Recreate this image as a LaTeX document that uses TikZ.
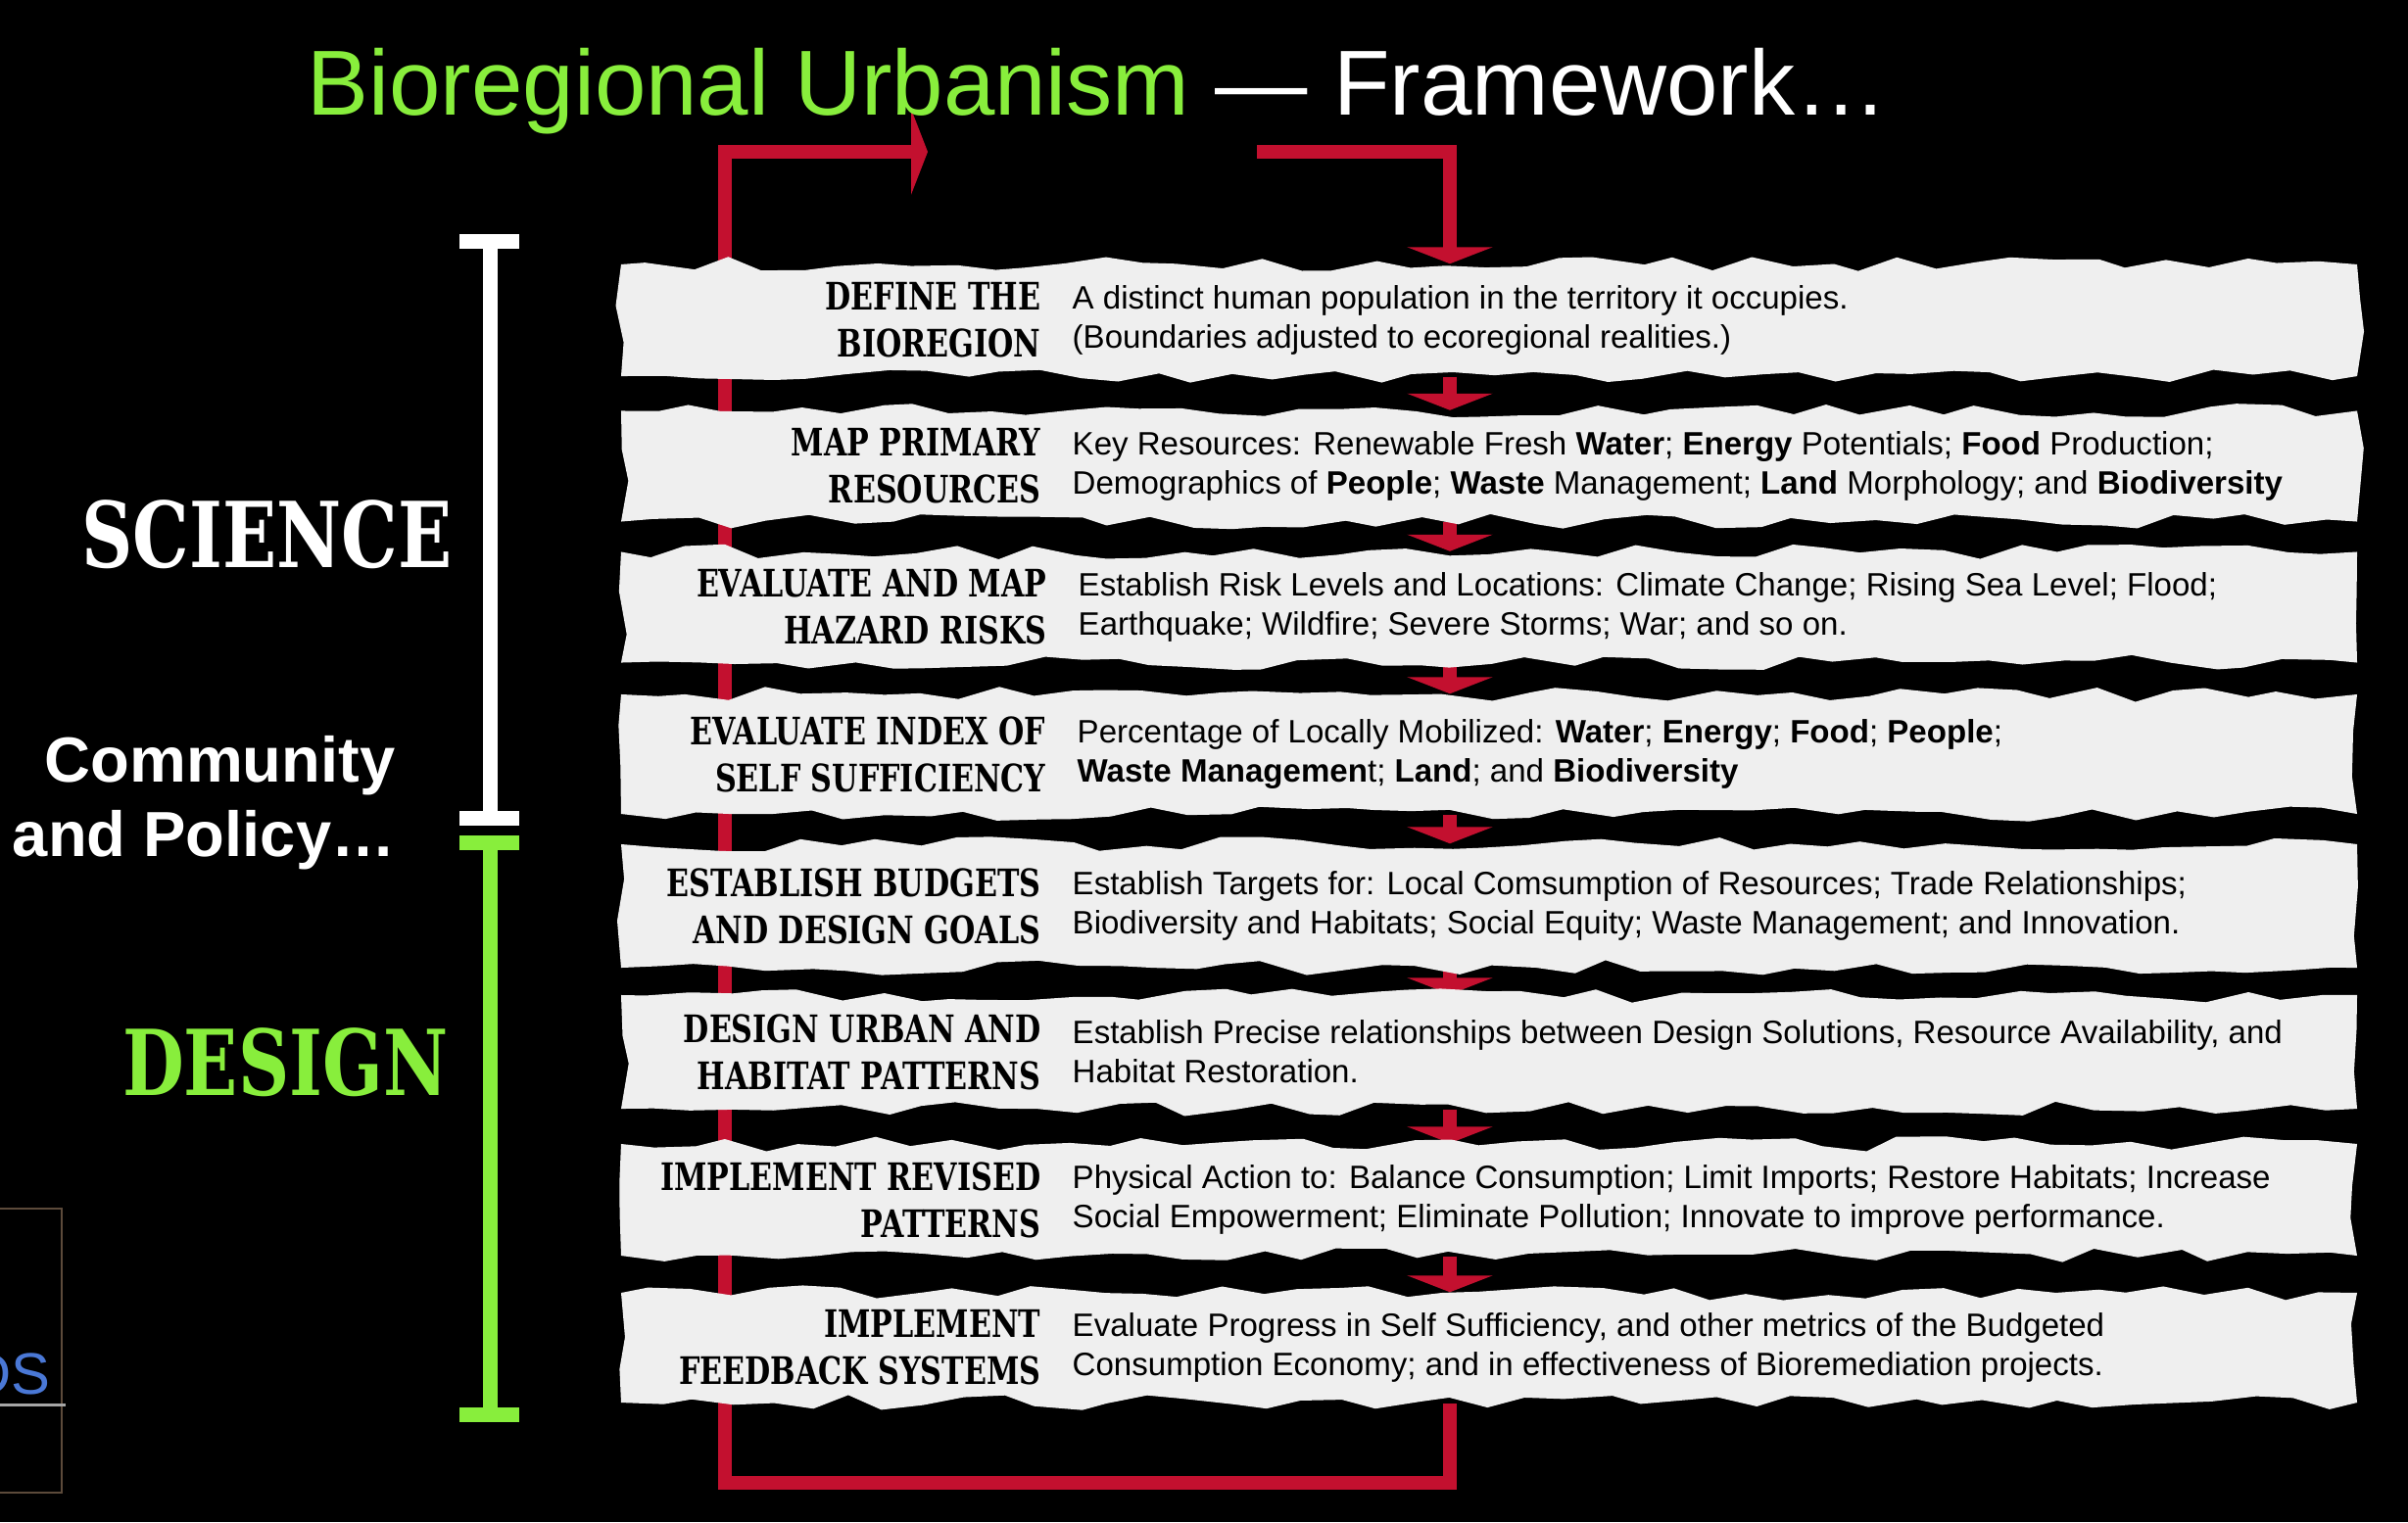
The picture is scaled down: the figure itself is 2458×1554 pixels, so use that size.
\documentclass[tikz,border=0pt]{standalone}
\usepackage{fontspec}
\setmainfont{Liberation Sans}
\newfontfamily\stencilfont[FakeStretch=0.78]{DejaVu Serif}
\usepackage{xcolor}
\usetikzlibrary{arrows.meta,calc,positioning,backgrounds,decorations.pathmorphing}
\definecolor{loopred}{HTML}{C3102F}
\definecolor{bioGreen}{HTML}{88EE3C}
\definecolor{paper}{HTML}{EFEFEF}
\definecolor{logoblue}{HTML}{4A78D6}
\definecolor{logoframe}{HTML}{5C4A3A}
\tikzset{
  loopline/.style={loopred,line width=0.14cm},
  flowtip/.tip={Triangle[width=0.87cm,length=0.17cm]},
  tornstrip/.style={fill=paper,decorate,decoration={random steps,segment length=11pt,amplitude=2.2pt},minimum width=17.71cm,inner sep=0pt},
  steplabel/.style={align=right,inner sep=0pt,font=\stencilfont\bfseries\fontsize{11}{13.6}\selectfont},
  stepdesc/.style={align=left,inner sep=0pt,font=\fontsize{9.4}{11.4}\selectfont},
  bigword/.style={inner sep=0pt,font=\stencilfont\bfseries\fontsize{26.4}{30}\selectfont},
  whitebar/.style={white,line width=0.15cm},
  greenbar/.style={bioGreen,line width=0.15cm}
}
\pgfmathsetseed{11}

\begin{document}
\begin{tikzpicture}[x=0.01cm,y=-0.01cm]
\useasboundingbox (0,0) rectangle (2458,1554);
% steps of the framework
\foreach \yc/\hh/\dx/\lab/\txt [count=\i] in {
  327/1.14/0/{DEFINE THE\\BIOREGION}/{A distinct human population in the territory it occupies.\\(Boundaries adjusted to ecoregional realities.)},
  476/1.13/0/{MAP PRIMARY\\RESOURCES}/{Key Resources: Renewable Fresh \textbf{Water}; \textbf{Energy} Potentials; \textbf{Food} Production;\\Demographics of \textbf{People}; \textbf{Waste} Management; \textbf{Land} Morphology; and \textbf{Biodiversity}},
  620/1.13/6/{EVALUATE AND MAP\\HAZARD RISKS}/{Establish Risk Levels and Locations: Climate Change; Rising Sea Level; Flood;\\Earthquake; Wildfire; Severe Storms; War; and so on.},
  770/1.22/5/{EVALUATE INDEX OF\\SELF SUFFICIENCY}/{Percentage of Locally Mobilized: \textbf{Water}; \textbf{Energy}; \textbf{Food}; \textbf{People};\\\textbf{Waste Managemen}t; \textbf{Land}; and \textbf{Biodiversity}},
  925/1.26/0/{ESTABLISH BUDGETS\\AND DESIGN GOALS}/{Establish Targets for: Local Comsumption of Resources; Trade Relationships;\\Biodiversity and Habitats; Social Equity; Waste Management; and Innovation.},
  1074/1.16/0/{DESIGN URBAN AND\\HABITAT PATTERNS}/{Establish Precise relationships between Design Solutions, Resource Availability, and\\Habitat Restoration.},
  1225/1.14/0/{IMPLEMENT REVISED\\PATTERNS}/{Physical Action to: Balance Consumption; Limit Imports; Restore Habitats; Increase\\Social Empowerment; Eliminate Pollution; Innovate to improve performance.},
  1376/1.12/0/{IMPLEMENT\\FEEDBACK SYSTEMS}/{Evaluate Progress in Self Sufficiency, and other metrics of the Budgeted\\Consumption Economy; and in effectiveness of Bioremediation projects.}}{
  \node[tornstrip,minimum height=\hh cm] (strip\i) at (1520,\yc) {};
  \node[steplabel,anchor=east] (lab\i) at (1063+\dx,\yc) {\lab};
  \node[stepdesc,anchor=west] (desc\i) at (1094+\dx,\yc) {\txt};
}
\coordinate (rail) at (1480,0);
\coordinate (loopin) at (1283,155);
\coordinate (loopbot) at (740,1514);
\coordinate (looptop) at (740,155);
\coordinate (loopout) at (947,155);
\begin{scope}[on background layer]
\fill[black] (0,0) rectangle (2458,1554);
\draw[loopline,-flowtip] (loopin) -| (strip1.north -| rail);
\foreach \i [evaluate=\i as \j using int(\i+1)] in {1,...,7}{\draw[loopline,-flowtip] (strip\i.south -| rail) -- (strip\j.north -| rail);}
\draw[loopline,-flowtip] (strip8.south -| rail) |- (loopbot) -- (looptop) -- (loopout);
\end{scope}
\node[anchor=base west,inner sep=0pt,text=white,font=\fontsize{26.8}{32}\selectfont] (title) at (313,117) {\textcolor{bioGreen}{Bioregional Urbanism} — Framework…};
% science / design brackets
\draw[whitebar] (469,246) -- (530,246);
\draw[whitebar] (500,246) -- (500,835);
\draw[whitebar] (469,835) -- (530,835);
\draw[greenbar] (469,860) -- (530,860);
\draw[greenbar] (500,860) -- (500,1444);
\draw[greenbar] (469,1444) -- (530,1444);
\node[bigword,anchor=base east,text=white] (science) at (462,579) {SCIENCE};
\node[bigword,anchor=base east,text=bioGreen] (design) at (458,1118) {DESIGN};
\node[anchor=north east,align=right,inner sep=0pt,text=white,font=\bfseries\fontsize{18.5}{21.6}\selectfont] (community) at (404,751) {Community\\and Policy…};
\begin{scope}
\clip (0,1200) rectangle (80,1554);
\draw[logoframe,line width=0.4pt] (-10,1234) rectangle (63,1524);
\draw[gray!70,line width=0.03cm] (-10,1434) -- (67,1434);
\node[anchor=base east,inner sep=0pt,text=logoblue,font=\fontsize{17}{17}\selectfont] (logo) at (52,1423) {DS};
\end{scope}
\end{tikzpicture}
\end{document}
